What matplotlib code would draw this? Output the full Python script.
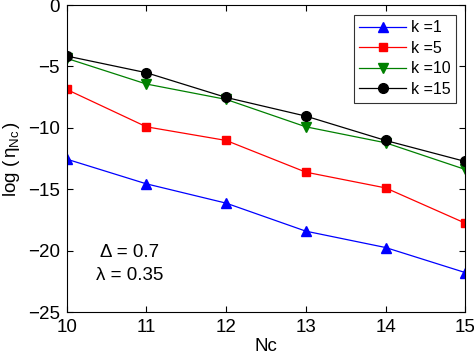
import matplotlib
matplotlib.use("Agg")
import matplotlib.pyplot as plt

plt.rcParams['font.family'] = ['Liberation Sans', 'DejaVu Sans']
plt.rcParams['mathtext.fontset'] = 'custom'
plt.rcParams['mathtext.rm'] = 'Liberation Sans'
plt.rcParams['mathtext.it'] = 'Liberation Sans'

nc = [10, 11, 12, 13, 14, 15]
k1 = [-12.54, -14.55, -16.12, -18.40, -19.73, -21.77]
k5 = [-6.87, -9.91, -11.02, -13.60, -14.88, -17.75]
k10 = [-4.34, -6.43, -7.68, -9.91, -11.21, -13.38]
k15 = [-4.15, -5.51, -7.52, -9.04, -11.02, -12.73]
labels = ['k =1', 'k =5', 'k =10', 'k =15']

fig = plt.figure(figsize=(4.74, 3.53), dpi=100)
ax = fig.add_axes([66.7/474, 1 - 312.3/353, (465.3-66.7)/474, (312.3-5)/353])

ms = 7
ax.plot(nc, k1, '-^', color='#0000ff', lw=0.9, ms=ms, label=labels[0])
ax.plot(nc, k5, '-s', color='#ff0000', lw=0.9, ms=ms-1, label=labels[1])
ax.plot(nc, k10, '-v', color='#008000', lw=0.9, ms=ms, label=labels[2])
ax.plot(nc, k15, '-o', color='#000000', lw=0.9, ms=ms, label=labels[3])

ax.set_xlim(10, 15)
ax.set_ylim(-25, 0)
ax.set_xticks(nc)
ax.set_yticks([-25, -20, -15, -10, -5, 0])
ax.tick_params(direction='in', top=True, right=True, labelsize=13.5, length=4, width=0.8, pad=5)
for s in ax.spines.values():
    s.set_linewidth(0.8)

ax.set_xlabel('Nc', fontsize=13.5, labelpad=1)
ax.set_ylabel(r'$\mathregular{log\ (\,\eta_{Nc}\,)}$', fontsize=13.5, labelpad=4)

ax.text(10.79, -20.1, '\u0394 = 0.7', fontsize=13.5, ha='center', va='center')
ax.text(10.79, -22.0, '\u03bb = 0.35', fontsize=13.5, ha='center', va='center')

leg = ax.legend(loc='upper right', fontsize=11.5, frameon=True, fancybox=False,
                edgecolor='black', handlelength=2.9, borderpad=0.35, labelspacing=0.35,
                handletextpad=0.3, borderaxespad=0.6)
leg.get_frame().set_linewidth(0.8)

fig.savefig('out.png', dpi=100)
